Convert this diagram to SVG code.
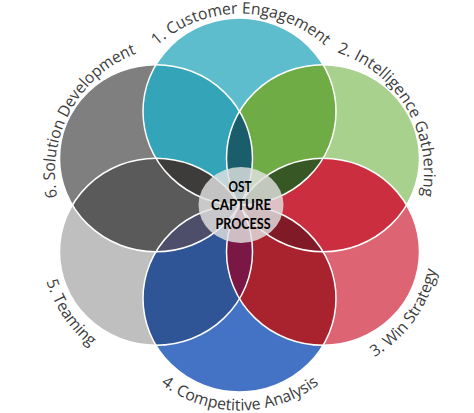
<svg xmlns="http://www.w3.org/2000/svg" width="474" height="413" viewBox="0 0 474 413">
<style>
.lbl{font-family:"Open Sans",Lato,"Noto Sans",sans-serif;font-size:16px;fill:#3c3c3c}
.edge{fill:none;stroke:#ffffff;stroke-width:1.5}
.ctr{font-family:Lato,"Open Sans","Noto Sans",sans-serif;font-weight:bold;font-size:16px;fill:#000000;text-anchor:middle}
</style>
<defs>
<ellipse id="e1" cx="239.5" cy="111.5" rx="96.5" ry="93.5"/>
<ellipse id="e2" cx="323" cy="158.25" rx="96.5" ry="93.5"/>
<ellipse id="e3" cx="323" cy="251.75" rx="96.5" ry="93.5"/>
<ellipse id="e4" cx="239.5" cy="298.5" rx="96.5" ry="93.5"/>
<ellipse id="e5" cx="156" cy="251.75" rx="96.5" ry="93.5"/>
<ellipse id="e6" cx="156" cy="158.25" rx="96.5" ry="93.5"/>
<clipPath id="k1"><use href="#e1"/></clipPath>
<clipPath id="k2"><use href="#e2"/></clipPath>
<clipPath id="k3"><use href="#e3"/></clipPath>
<clipPath id="k4"><use href="#e4"/></clipPath>
<clipPath id="k5"><use href="#e5"/></clipPath>
<clipPath id="k6"><use href="#e6"/></clipPath>
<path id="p1" d="M115.1,134.6 A126,126 0 0 1 366.9,134.6"/>
<path id="p2" d="M236.8,60.9 A127,127 0 0 1 365.6,279.6"/>
<path id="p6" d="M117.6,281.6 A127,127 0 0 1 239.9,59.1"/>
<path id="p4" d="M108.1,283.6 A132,132 0 0 0 371.9,283.6"/>
<path id="p3" d="M229.9,354.1 A135,135 0 0 0 386.6,134.4"/>
<path id="p5" d="M95.7,131.5 A136,136 0 0 0 247.7,356.8"/>
</defs>
<rect width="474" height="413" fill="#ffffff"/>
<g id="node-6"><use href="#e6" fill="#7f7f7f"/><text class="lbl" text-anchor="middle"><textPath href="#p6" startOffset="50%" textLength="178" lengthAdjust="spacingAndGlyphs">6. Solution Development</textPath></text></g>
<g id="node-5"><use href="#e5" fill="#bfbfbf"/><text class="lbl" text-anchor="middle"><textPath href="#p5" startOffset="50%" textLength="80" lengthAdjust="spacingAndGlyphs">5. Teaming</textPath></text></g>
<g id="node-4"><use href="#e4" fill="#4472c4"/><text class="lbl" text-anchor="middle"><textPath href="#p4" startOffset="50%" textLength="170" lengthAdjust="spacingAndGlyphs">4. Competitive Analysis</textPath></text></g>
<g id="node-3"><use href="#e3" fill="#dd6472"/><text class="lbl" text-anchor="middle"><textPath href="#p3" startOffset="50%" textLength="110" lengthAdjust="spacingAndGlyphs">3. Win Strategy</textPath></text></g>
<g id="node-2"><use href="#e2" fill="#a9d18e"/><text class="lbl" text-anchor="middle"><textPath href="#p2" startOffset="50%" textLength="182" lengthAdjust="spacingAndGlyphs">2. Intelligence Gathering</textPath></text></g>
<g id="node-1"><use href="#e1" fill="#5dbdcd"/><text class="lbl" text-anchor="middle"><textPath href="#p1" startOffset="50%" textLength="184" lengthAdjust="spacingAndGlyphs">1. Customer Engagement</textPath></text></g>
<g id="overlaps">
<use href="#e6" clip-path="url(#k1)" fill="#34a5b9"/>
<use href="#e2" clip-path="url(#k1)" fill="#6fac46"/>
<use href="#e3" clip-path="url(#k2)" fill="#cb2f3f"/>
<use href="#e4" clip-path="url(#k3)" fill="#a9232f"/>
<use href="#e5" clip-path="url(#k4)" fill="#2f5597"/>
<use href="#e6" clip-path="url(#k5)" fill="#5a5a5a"/>
<use href="#e2" clip-path="url(#k6)" fill="#1a5e6c"/>
<use href="#e3" clip-path="url(#k1)" fill="#375724"/>
<use href="#e4" clip-path="url(#k2)" fill="#801a27"/>
<use href="#e5" clip-path="url(#k3)" fill="#7a1744"/>
<use href="#e6" clip-path="url(#k4)" fill="#4d4f6a"/>
<use href="#e1" clip-path="url(#k5)" fill="#3e3b3b"/>
</g>
<g id="outlines">
<use href="#e1" class="edge"/><use href="#e2" class="edge"/><use href="#e3" class="edge"/>
<use href="#e4" class="edge"/><use href="#e5" class="edge"/><use href="#e6" class="edge"/>
</g>
<g id="center">
<ellipse cx="241" cy="205" rx="42.5" ry="38" fill="#e2e2e2" fill-opacity="0.82"/>
<text class="ctr" x="240" y="191.5" textLength="23" lengthAdjust="spacingAndGlyphs">OST</text>
<text class="ctr" x="241" y="210" textLength="60" lengthAdjust="spacingAndGlyphs">CAPTURE</text>
<text class="ctr" x="243" y="228.5" textLength="55" lengthAdjust="spacingAndGlyphs">PROCESS</text>
</g>
</svg>
